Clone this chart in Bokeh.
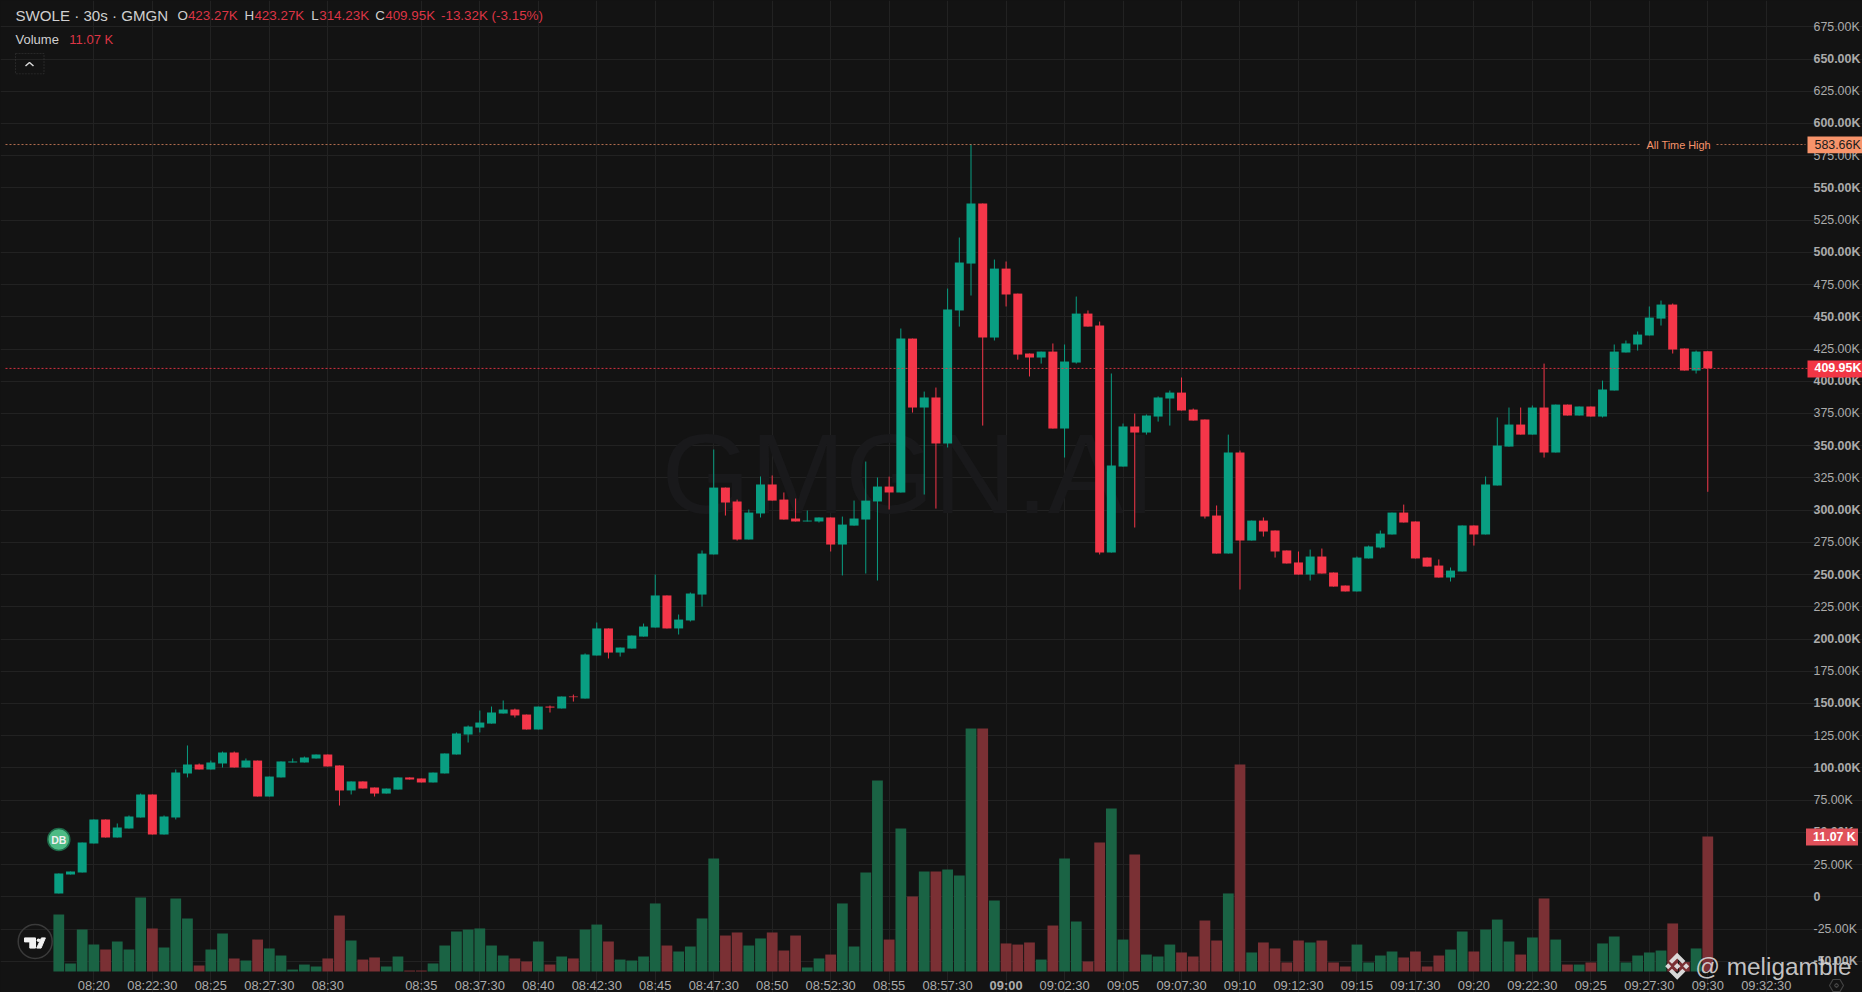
from bokeh.plotting import figure
from bokeh.models import FixedTicker, Label, Range1d, PolyAnnotation, AllLabels, GlobalInlineStyleSheet, LinearAxis, Grid
from bokeh.core.properties import value
from bokeh.embed import file_html
from bokeh.resources import INLINE

# ---- data (K) ----
open_ = [2.6,17.3,18.9,41.4,60.0,46.0,53.0,61.5,79.4,48.3,61.5,95.7,102.6,98.8,103.4,112.0,100.3,105.7,77.8,92.6,
104.2,104.2,107.3,110.4,101.9,82.5,89.5,84.8,80.1,83.2,92.6,91.8,88.7,95.7,110.4,125.9,131.3,134.4,142.2,145.3,
141.4,129.8,147.6,146.1,155.4,153.8,187.2,208.2,189.5,192.6,201.9,208.9,233.8,208.2,214.4,234.5,265.6,317.5,306.7,277.2,
297.4,319.9,308.2,293.5,291.2,291.2,294.3,273.3,288.0,292.7,306.7,318.3,313.7,433.1,379.6,387.4,351.7,454.9,491.3,537.9,
433.9,487.4,468.0,421.5,418.4,423.0,363.3,414.5,452.5,443.2,267.1,333.8,364.9,360.2,372.6,386.6,391.2,378.0,370.3,295.8,
266.3,344.7,276.4,291.9,284.2,268.7,259.4,250.0,264.0,251.6,241.5,236.9,262.5,271.0,281.1,298.1,291.2,263.2,257.0,247.7,
252.4,288.1,281.1,319.1,349.3,366.4,358.6,379.6,344.7,381.9,373.4,380.4,372.6,392.8,422.3,428.5,435.5,448.6,459.5,425.4,
408.3,423.27]
high = [18.1,19.6,42.1,60.0,60.0,56.9,63.1,80.1,79.4,63.1,98.8,117.4,103.4,105.7,112.7,112.7,107.3,105.7,93.3,105.0,
107.3,108.8,110.4,110.4,101.9,89.5,89.5,84.8,84.0,92.6,92.6,91.8,96.4,111.2,127.5,132.9,144.5,147.6,152.3,146.0,
141.4,147.6,148.4,155.4,156.9,188.8,212.8,208.2,193.4,202.7,212.0,250.0,233.8,219.0,236.1,268.7,347.0,317.5,308.2,300.5,
326.1,326.9,313.7,309.0,299.7,294.3,294.3,295.0,307.4,337.7,325.3,326.0,440.9,433.1,392.0,395.1,471.9,511.5,583.66,537.9,
494.4,492.9,468.0,421.5,423.0,429.3,428.5,465.7,454.9,446.3,406.0,367.2,374.9,374.2,388.2,392.8,402.9,378.8,370.3,303.6,
358.6,346.2,291.9,294.3,284.2,268.7,267.9,269.4,270.2,251.6,241.5,264.0,272.5,284.2,298.1,304.3,291.2,263.2,261.7,255.5,
288.1,288.1,326.1,371.9,379.6,379.6,381.2,413.7,381.9,381.9,380.4,380.4,400.5,428.5,431.6,438.6,458.0,462.6,460.3,425.4,
423.8,423.27]
low = [2.6,17.3,18.9,41.4,46.0,46.0,53.0,61.5,48.3,48.3,60.0,92.6,98.8,98.8,100.3,100.3,100.3,77.8,77.8,92.6,
104.2,104.2,107.3,101.1,70.8,79.4,84.0,77.8,80.1,83.2,91.0,88.7,88.7,95.7,110.4,119.7,127.5,134.4,142.2,139.1,
129.8,129.8,143.0,146.1,151.5,153.8,187.2,184.9,186.4,192.6,201.9,208.9,208.2,203.5,213.6,225.2,265.6,295.8,276.4,277.2,
294.3,307.4,292.7,291.2,291.2,290.4,267.9,249.3,288.0,250.8,245.4,300.5,313.7,375.7,312.1,301.2,348.6,442.4,466.5,365.6,
431.6,458.0,416.8,403.7,413.7,363.3,340.8,413.7,442.4,265.6,267.1,333.8,286.5,358.6,368.7,365.6,377.3,369.5,293.5,266.3,
266.3,238.4,276.4,279.5,263.2,258.6,250.0,245.4,250.8,240.7,236.9,236.9,262.5,270.2,281.1,290.4,262.5,256.2,247.7,244.6,
252.4,272.5,281.1,319.1,349.3,358.6,358.6,340.8,344.7,373.4,373.4,372.6,371.9,392.8,422.3,423.8,435.5,443.2,421.5,408.3,
406.0,314.23]
close = [18.1,19.6,42.1,60.0,46.0,53.8,62.3,79.4,48.3,62.3,96.4,102.6,98.8,104.2,112.0,100.3,105.7,77.8,93.3,105.0,
105.0,108.1,110.4,101.1,82.5,89.5,84.0,80.1,84.0,92.6,91.0,88.7,96.4,111.2,126.7,132.1,135.2,143.0,145.3,140.7,
129.8,147.6,146.8,155.4,154.9,188.0,208.2,189.5,193.4,202.7,209.7,233.8,208.2,215.1,235.3,266.3,317.5,305.9,277.2,298.1,
319.9,307.4,292.7,291.2,291.9,294.3,273.3,288.8,293.5,307.4,318.3,313.7,433.1,379.6,387.4,351.7,455.6,492.1,537.9,433.9,
487.4,467.3,420.7,418.4,423.0,363.3,415.3,452.5,442.4,267.1,334.6,364.9,360.2,373.4,387.4,391.2,377.3,369.5,295.0,266.3,
344.7,276.4,291.9,283.4,267.9,258.6,250.0,264.0,250.8,240.7,236.9,263.2,271.8,281.8,298.1,290.4,262.5,256.2,247.7,253.1,
288.1,281.1,319.9,350.1,366.4,358.6,379.6,344.7,381.9,373.4,380.4,372.6,393.6,423.0,429.3,436.2,449.4,459.5,424.6,408.3,
423.0,409.95]
volume = [4.67,0.66,3.44,2.21,1.80,2.46,1.80,6.07,3.53,1.97,5.99,4.35,0.49,1.80,3.12,1.07,0.90,2.62,1.89,1.31,
0.16,0.57,0.41,1.07,4.59,2.54,0.98,1.15,0.41,1.23,0.08,0.08,0.66,2.13,3.28,3.44,3.53,2.13,1.31,1.07,
0.82,2.46,0.57,1.23,1.07,3.44,3.85,2.46,0.98,0.90,1.23,5.58,2.13,1.64,2.05,4.35,9.26,2.95,3.20,2.13,
2.71,3.20,1.72,2.95,0.33,1.07,1.39,5.58,2.05,8.12,15.66,2.62,11.72,6.15,8.20,8.20,8.36,7.87,19.92,19.92,
5.82,2.30,2.21,2.38,0.98,3.77,9.26,4.10,0.82,10.58,13.36,2.62,9.59,1.39,1.23,2.21,1.56,1.23,4.18,2.54,
6.40,16.97,1.56,2.38,1.89,0.74,2.54,2.38,2.54,0.74,0.41,2.21,0.74,1.31,1.64,1.15,1.64,0.41,1.31,1.80,
3.28,1.64,3.44,4.26,2.46,1.39,2.79,5.99,2.62,0.57,0.57,0.74,2.30,2.87,0.74,1.31,1.56,1.72,3.94,0.77,
1.89,11.07]
time_ticks = [3,8,13,18,23,31,36,41,46,51,56,61,66,71,76,81,86,91,96,101,106,111,116,121,126,131,136,141,146]
time_labels = ["08:20","08:22:30","08:25","08:27:30","08:30","08:35","08:37:30","08:40","08:42:30","08:45",
"08:47:30","08:50","08:52:30","08:55","08:57:30","09:00","09:02:30","09:05","09:07:30","09:10","09:12:30",
"09:15","09:17:30","09:20","09:22:30","09:25","09:27:30","09:30","09:32:30"]
bold_time = "09:00"
price_ticks = [-50,-25,0,25,50,75,100,125,150,175,200,225,250,275,300,325,350,375,400,425,450,475,500,525,550,575,600,625,650,675]
bold_prices = [-50,0,50,100,150,200,250,300,350,400,450,500,550,600,650]
ATH = 583.66
LAST = 409.95
LAST_VOL = 11.07

# ---- pixel helpers for decoration ----
def X(px): return (px - 58.3) / 11.695
def Y(py): return (896.3 - py) / 1.2889

BG = "#131313"; GRID = "#222222"; UP = "#099E82"; DOWN = "#F43649"
VUP = "#1A6344"; VDOWN = "#7A3034"; AXC = "#ABABAB"; TXT = "#D0D0D0"; LRED = "#DC3545"; ORANGE = "#F7946B"
FONT = "Liberation Sans"
PANE_L, PANE_R, PANE_B = 5, 1807, 971

p = figure(width=1862, height=992, output_backend="svg", toolbar_location=None,
           x_range=(X(0), X(1862)), y_range=(Y(992), Y(0)), x_axis_location=None, y_axis_location=None,
           background_fill_color=BG, border_fill_color=BG, outline_line_color=None,
           min_border_left=0, min_border_right=0, min_border_top=0, min_border_bottom=0)
p.stylesheets = [GlobalInlineStyleSheet(css="html,body{margin:0;padding:0;background:#131313;overflow:hidden}")]
p.grid.visible = False

xt = FixedTicker(ticks=time_ticks)
yt = FixedTicker(ticks=price_ticks)
p.add_layout(Grid(dimension=0, ticker=xt, bounds=(Y(PANE_B), Y(0)), grid_line_color=GRID))
p.add_layout(Grid(dimension=1, ticker=yt, bounds=(X(PANE_L), X(PANE_R)), grid_line_color=GRID))

def make_axis(ticks, overrides, size, standoff, loc, bold):
    ax = LinearAxis(ticker=FixedTicker(ticks=ticks), major_label_overrides=overrides, fixed_location=loc,
                    axis_line_color=None, major_tick_line_color=None, minor_tick_line_color=None,
                    major_tick_in=0, major_tick_out=0, minor_tick_in=0, minor_tick_out=0,
                    major_label_text_color=AXC, major_label_text_font=FONT,
                    major_label_text_font_size=f"{size}px", major_label_standoff=standoff,
                    major_label_text_font_style="bold" if bold else "normal",
                    major_label_policy=AllLabels())
    return ax

tn = [t for t, l in zip(time_ticks, time_labels) if l != bold_time]
tb = [t for t, l in zip(time_ticks, time_labels) if l == bold_time]
lbl = dict(zip(time_ticks, time_labels))
p.add_layout(make_axis(tn, {t: lbl[t] for t in tn}, 12.9, 6, Y(PANE_B), False), "below")
p.add_layout(make_axis(tb, {t: lbl[t] for t in tb}, 12.9, 6, Y(PANE_B), True), "below")
pn = [t for t in price_ticks if t not in bold_prices]
fmt = lambda t: f"{t:.2f}K" if t else "0"
p.add_layout(make_axis(pn, {t: fmt(t) for t in pn}, 12.4, 6, X(PANE_R), False), "right")
p.add_layout(make_axis(bold_prices, {t: fmt(t) for t in bold_prices}, 12.4, 6, X(PANE_R), True), "right")

def lab(px, val, text, size, color, bold=False, align="left", **kw):
    l = Label(x=X(px), y=val, text=text, text_font=FONT, text_font_size=f"{size}px", text_color=color,
              text_baseline="middle", text_align=align,
              text_font_style="bold" if bold else "normal", **kw)
    p.add_layout(l)
    return l

def box(x0, x1, y0, y1, **kw):
    p.add_layout(PolyAnnotation(xs=[X(v) for v in (x0, x1, x1, x0)], ys=[Y(v) for v in (y0, y0, y1, y1)], **kw))

# watermark
p.text(x=[X(661)], y=[Y(473)], text=["GMGN.AI"], text_font=value("Liberation Sans"), text_font_size="114px",
       text_color="#19191B", text_baseline="middle", text_align="left")

# volume: 0 sits on the pane's bottom edge
idx = list(range(len(close)))
up = [c >= o for o, c in zip(open_, close)]
PX_PER_VOL = 12.195
p.extra_y_ranges = {"vol": Range1d((PANE_B - 992) / PX_PER_VOL, PANE_B / PX_PER_VOL)}
p.vbar(x=idx, top=volume, bottom=0, width=0.92, y_range_name="vol", line_color=None,
       fill_color=[VUP if u else VDOWN for u in up])
# candles
col = [UP if u else DOWN for u in up]
p.segment(x0=idx, x1=idx, y0=low, y1=high, line_color=col, line_width=1)
p.vbar(x=idx, top=[max(o, c) for o, c in zip(open_, close)], bottom=[min(o, c) for o, c in zip(open_, close)],
       width=0.77, fill_color=col, line_color=None)

# price lines
p.segment(x0=[X(PANE_L)], x1=[X(PANE_R)], y0=[LAST], y1=[LAST], line_color=DOWN, line_alpha=0.85, line_dash="2 2", line_width=1)
p.segment(x0=[X(PANE_L), X(1716)], x1=[X(1639), X(1805)], y0=[ATH, ATH], y1=[ATH, ATH], line_color=ORANGE,
          line_alpha=0.7, line_dash="2 2", line_width=1)
lab(1646, ATH, "All Time High", 10.9, ORANGE)

# DB badge
p.scatter(x=[0], y=[Y(839)], size=22, fill_color="#4DBB85", line_color="#1D6B4A", line_width=1.5)
lab(58.3, Y(839), "DB", 10.5, "#F0F0F0", bold=True, align="center")

# TV logo
p.circle(x=[X(34.7)], y=[Y(941)], radius=17 / 11.695, fill_color=None, line_color="#3A3A3A", line_width=1.5)
p.patch([X(v) for v in (24, 35, 35, 29.3, 29.3, 24)], [Y(v) for v in (937.4, 937.4, 947.6, 947.6, 941.4, 941.4)], color="#F2F2F2")
p.patch([X(v) for v in (40.9, 44.9, 40.6, 36.2)], [Y(v) for v in (937.4, 937.4, 947.6, 947.6)], color="#F2F2F2")
p.scatter(x=[X(38)], y=[Y(939.8)], size=3.6, fill_color="#F2F2F2", line_color=None)

# axis tags: box first, text over it
solid = dict(fill_alpha=1, line_color=None)
box(1807, 1862, 136, 152.7, fill_color=ORANGE, **solid)
lab(1814, ATH, "583.66K", 12.4, "#1A1A1A")
box(1807, 1862, 360, 377, fill_color="#F23645", **solid)
lab(1814, LAST, "409.95K", 12.4, "#FFFFFF", bold=True)
box(1805.5, 1857.5, 828, 845, fill_color="#E0515A", **solid)
lab(1812.6, Y(836.5), "11.07 K", 12.4, "#FFFFFF", bold=True)

# legend
lab(15, Y(14.7), "SWOLE · 30s · GMGN", 15.1, TXT)
for px, t, c, s in [(177, "O", TXT, 13.4), (187.4, "423.27K", LRED, 13.4), (244, "H", TXT, 13.4), (253.9, "423.27K", LRED, 13.4),
                    (310.8, "L", TXT, 13.4), (318.7, "314.23K", LRED, 13.4), (374.8, "C", TXT, 13.4), (384.7, "409.95K", LRED, 13.4),
                    (440.5, "-13.32K (-3.15%)", LRED, 13.4)]:
    lab(px, Y(14.7), t, s, c)
lab(15, Y(38.7), "Volume", 13, TXT)
lab(68.8, Y(38.7), "11.07 K", 13, LRED)
box(15, 43.5, 53, 73.3, fill_alpha=0, line_color="#555555", line_dash="2 1", line_width=1)
p.line([X(25), X(29), X(33)], [Y(65.5), Y(62), Y(65.5)], line_color="#D8D8D8", line_width=1.5)

# bottom-right watermark
cx, cy = 1676.7, 965.7
shapes = [[(0, -3.3), (3.3, 0), (0, 3.3), (-3.3, 0)],
          [(-9, -3), (-6, 0), (-9, 3), (-12, 0)],
          [(9, -3), (12, 0), (9, 3), (6, 0)],
          [(0, -13.5), (8.2, -5.3), (5.2, -2.5), (0, -7.6), (-5.2, -2.5), (-8.2, -5.3)],
          [(0, 13.5), (8.2, 5.3), (5.2, 2.5), (0, 7.6), (-5.2, 2.5), (-8.2, 5.3)]]
for s in shapes:
    p.add_layout(PolyAnnotation(xs=[X(cx + a) for a, b in s], ys=[Y(cy + b) for a, b in s],
                                fill_color="#E2E2E2", fill_alpha=0.95, line_color=None, level="overlay"))
lab(1694.7, Y(966), "@ meligamble", 24.4, "#DADADA", level="overlay", text_alpha=0.9)

# settings icon
hx, hy = 1836, 985
p.add_layout(PolyAnnotation(xs=[X(hx + a) for a in (-7, -3.5, 3.5, 7, 3.5, -3.5)],
                            ys=[Y(hy + b) for b in (0, -6, -6, 0, 6, 6)],
                            fill_alpha=0, line_color="#B0B0B0", line_width=1.2))
p.add_layout(PolyAnnotation(xs=[X(hx + a) for a in (-2, 0, 2, 0)], ys=[Y(hy + b) for b in (0, -2, 0, 2)],
                            fill_alpha=0, line_color="#B0B0B0", line_width=1.2))

open("out.html", "w").write(file_html(p, INLINE))
